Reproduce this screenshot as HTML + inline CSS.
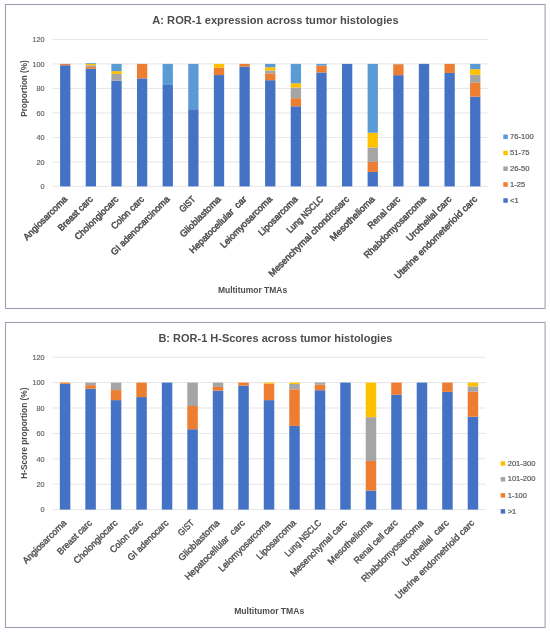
<!DOCTYPE html>
<html><head><meta charset="utf-8"><style>
html,body{margin:0;padding:0;background:#fff;}
body{width:550px;height:633px;overflow:hidden;}
svg{display:block;will-change:transform;filter:blur(0.3px);font-family:"Liberation Sans",sans-serif;}
.tk{font-size:8px;fill:#666;stroke:#666;stroke-width:0.2px;}
.lb{font-size:9.2px;fill:#505050;stroke:#505050;}
.lbA{stroke-width:0.55px;}
.lbB{stroke-width:0.4px;}
.ti{font-size:11.4px;font-weight:bold;fill:#4d4d4d;}
.at{font-size:8.8px;font-weight:bold;fill:#4d4d4d;}
.lg{fill:#595959;stroke:#595959;stroke-width:0.2px;}
</style></head><body>
<svg width="550" height="633" viewBox="0 0 550 633">
<rect width="550" height="633" fill="#fff"/>
<rect x="5.5" y="4.5" width="539.6" height="304" fill="#fff" stroke="#9EA1B5" stroke-width="1.1"/>
<rect x="52.44" y="185.90" width="435.62" height="1" fill="#E6E6E6"/>
<text x="44.6" y="189.25" text-anchor="end" class="tk" textLength="4.07" lengthAdjust="spacingAndGlyphs">0</text>
<rect x="52.44" y="161.40" width="435.62" height="1" fill="#E6E6E6"/>
<text x="44.6" y="164.75" text-anchor="end" class="tk" textLength="8.14" lengthAdjust="spacingAndGlyphs">20</text>
<rect x="52.44" y="136.90" width="435.62" height="1" fill="#E6E6E6"/>
<text x="44.6" y="140.25" text-anchor="end" class="tk" textLength="8.14" lengthAdjust="spacingAndGlyphs">40</text>
<rect x="52.44" y="112.40" width="435.62" height="1" fill="#E6E6E6"/>
<text x="44.6" y="115.75" text-anchor="end" class="tk" textLength="8.14" lengthAdjust="spacingAndGlyphs">60</text>
<rect x="52.44" y="87.90" width="435.62" height="1" fill="#E6E6E6"/>
<text x="44.6" y="91.25" text-anchor="end" class="tk" textLength="8.14" lengthAdjust="spacingAndGlyphs">80</text>
<rect x="52.44" y="63.40" width="435.62" height="1" fill="#E6E6E6"/>
<text x="44.6" y="66.75" text-anchor="end" class="tk" textLength="12.21" lengthAdjust="spacingAndGlyphs">100</text>
<rect x="52.44" y="38.90" width="435.62" height="1" fill="#E6E6E6"/>
<text x="44.6" y="42.25" text-anchor="end" class="tk" textLength="12.21" lengthAdjust="spacingAndGlyphs">120</text>
<rect x="60.10" y="65.25" width="10.3" height="121.15" fill="#4472C4"/>
<rect x="60.10" y="63.90" width="10.3" height="1.35" fill="#ED7D31"/>
<rect x="85.72" y="68.80" width="10.3" height="117.60" fill="#4472C4"/>
<rect x="85.72" y="66.96" width="10.3" height="1.84" fill="#ED7D31"/>
<rect x="85.72" y="65.25" width="10.3" height="1.72" fill="#A5A5A5"/>
<rect x="85.72" y="63.78" width="10.3" height="1.47" fill="#FFC000"/>
<rect x="85.72" y="63.04" width="10.3" height="0.73" fill="#5B9BD5"/>
<rect x="111.35" y="80.68" width="10.3" height="105.72" fill="#4472C4"/>
<rect x="111.35" y="73.95" width="10.3" height="6.74" fill="#A5A5A5"/>
<rect x="111.35" y="71.13" width="10.3" height="2.82" fill="#FFC000"/>
<rect x="111.35" y="63.90" width="10.3" height="7.23" fill="#5B9BD5"/>
<rect x="136.97" y="78.35" width="10.3" height="108.05" fill="#4472C4"/>
<rect x="136.97" y="63.90" width="10.3" height="14.45" fill="#ED7D31"/>
<rect x="162.60" y="84.97" width="10.3" height="101.43" fill="#4472C4"/>
<rect x="162.60" y="63.90" width="10.3" height="21.07" fill="#5B9BD5"/>
<rect x="188.22" y="109.22" width="10.3" height="77.18" fill="#4472C4"/>
<rect x="188.22" y="63.90" width="10.3" height="45.33" fill="#5B9BD5"/>
<rect x="213.85" y="75.05" width="10.3" height="111.35" fill="#4472C4"/>
<rect x="213.85" y="67.70" width="10.3" height="7.35" fill="#ED7D31"/>
<rect x="213.85" y="63.90" width="10.3" height="3.80" fill="#FFC000"/>
<rect x="239.47" y="66.59" width="10.3" height="119.81" fill="#4472C4"/>
<rect x="239.47" y="63.90" width="10.3" height="2.70" fill="#ED7D31"/>
<rect x="265.10" y="80.19" width="10.3" height="106.21" fill="#4472C4"/>
<rect x="265.10" y="73.33" width="10.3" height="6.86" fill="#ED7D31"/>
<rect x="265.10" y="70.39" width="10.3" height="2.94" fill="#A5A5A5"/>
<rect x="265.10" y="67.21" width="10.3" height="3.19" fill="#FFC000"/>
<rect x="265.10" y="63.90" width="10.3" height="3.31" fill="#5B9BD5"/>
<rect x="290.73" y="106.28" width="10.3" height="80.12" fill="#4472C4"/>
<rect x="290.73" y="98.20" width="10.3" height="8.08" fill="#ED7D31"/>
<rect x="290.73" y="87.54" width="10.3" height="10.66" fill="#A5A5A5"/>
<rect x="290.73" y="83.25" width="10.3" height="4.29" fill="#FFC000"/>
<rect x="290.73" y="63.90" width="10.3" height="19.36" fill="#5B9BD5"/>
<rect x="316.35" y="72.47" width="10.3" height="113.93" fill="#4472C4"/>
<rect x="316.35" y="65.62" width="10.3" height="6.86" fill="#ED7D31"/>
<rect x="316.35" y="63.90" width="10.3" height="1.72" fill="#5B9BD5"/>
<rect x="341.98" y="63.90" width="10.3" height="122.50" fill="#4472C4"/>
<rect x="367.60" y="171.94" width="10.3" height="14.46" fill="#4472C4"/>
<rect x="367.60" y="161.90" width="10.3" height="10.04" fill="#ED7D31"/>
<rect x="367.60" y="147.44" width="10.3" height="14.46" fill="#A5A5A5"/>
<rect x="367.60" y="132.75" width="10.3" height="14.70" fill="#FFC000"/>
<rect x="367.60" y="63.90" width="10.3" height="68.85" fill="#5B9BD5"/>
<rect x="393.23" y="75.17" width="10.3" height="111.23" fill="#4472C4"/>
<rect x="393.23" y="64.27" width="10.3" height="10.90" fill="#ED7D31"/>
<rect x="393.23" y="63.90" width="10.3" height="0.37" fill="#A5A5A5"/>
<rect x="418.85" y="63.90" width="10.3" height="122.50" fill="#4472C4"/>
<rect x="444.48" y="72.97" width="10.3" height="113.44" fill="#4472C4"/>
<rect x="444.48" y="63.90" width="10.3" height="9.07" fill="#ED7D31"/>
<rect x="470.10" y="96.61" width="10.3" height="89.79" fill="#4472C4"/>
<rect x="470.10" y="82.89" width="10.3" height="13.72" fill="#ED7D31"/>
<rect x="470.10" y="74.80" width="10.3" height="8.08" fill="#A5A5A5"/>
<rect x="470.10" y="69.17" width="10.3" height="5.63" fill="#FFC000"/>
<rect x="470.10" y="63.90" width="10.3" height="5.27" fill="#5B9BD5"/>
<text transform="translate(67.75,199.80) rotate(-45)" text-anchor="end" class="lb lbA" textLength="57.78" lengthAdjust="spacingAndGlyphs">Angiosarcoma</text>
<text transform="translate(93.38,199.80) rotate(-45)" text-anchor="end" class="lb lbA" textLength="44.95" lengthAdjust="spacingAndGlyphs">Breast carc</text>
<text transform="translate(119.00,199.80) rotate(-45)" text-anchor="end" class="lb lbA" textLength="57.69" lengthAdjust="spacingAndGlyphs">Cholongiocarc</text>
<text transform="translate(144.62,199.80) rotate(-45)" text-anchor="end" class="lb lbA" textLength="42.42" lengthAdjust="spacingAndGlyphs">Colon carc</text>
<text transform="translate(170.25,199.80) rotate(-45)" text-anchor="end" class="lb lbA" textLength="78.97" lengthAdjust="spacingAndGlyphs">GI adenocarcinoma</text>
<text transform="translate(195.88,199.80) rotate(-45)" text-anchor="end" class="lb lbA" textLength="18.30" lengthAdjust="spacingAndGlyphs">GIST</text>
<text transform="translate(221.50,199.80) rotate(-45)" text-anchor="end" class="lb lbA" textLength="53.82" lengthAdjust="spacingAndGlyphs">Glioblastoma</text>
<text transform="translate(247.12,199.80) rotate(-45)" text-anchor="end" class="lb lbA" textLength="76.52" lengthAdjust="spacingAndGlyphs">Hepatocellular  car</text>
<text transform="translate(272.75,199.80) rotate(-45)" text-anchor="end" class="lb lbA" textLength="69.00" lengthAdjust="spacingAndGlyphs">Leiomyosarcoma</text>
<text transform="translate(298.38,199.80) rotate(-45)" text-anchor="end" class="lb lbA" textLength="51.49" lengthAdjust="spacingAndGlyphs">Liposarcoma</text>
<text transform="translate(324.00,199.80) rotate(-45)" text-anchor="end" class="lb lbA" textLength="47.60" lengthAdjust="spacingAndGlyphs">Lung NSCLC</text>
<text transform="translate(349.62,199.80) rotate(-45)" text-anchor="end" class="lb lbA" textLength="109.45" lengthAdjust="spacingAndGlyphs">Mesenchymal chondrosarc</text>
<text transform="translate(375.25,199.80) rotate(-45)" text-anchor="end" class="lb lbA" textLength="58.93" lengthAdjust="spacingAndGlyphs">Mesothelioma</text>
<text transform="translate(400.88,199.80) rotate(-45)" text-anchor="end" class="lb lbA" textLength="41.74" lengthAdjust="spacingAndGlyphs">Renal carc</text>
<text transform="translate(426.50,199.80) rotate(-45)" text-anchor="end" class="lb lbA" textLength="83.51" lengthAdjust="spacingAndGlyphs">Rhabdomyosarcoma</text>
<text transform="translate(452.12,199.80) rotate(-45)" text-anchor="end" class="lb lbA" textLength="59.42" lengthAdjust="spacingAndGlyphs">Urothelial carc</text>
<text transform="translate(477.75,199.80) rotate(-45)" text-anchor="end" class="lb lbA" textLength="112.66" lengthAdjust="spacingAndGlyphs">Uterine endometerioid carc</text>
<text x="152.3" y="23.9" class="ti" textLength="246.3" lengthAdjust="spacingAndGlyphs">A: ROR-1 expression across tumor histologies</text>
<text transform="translate(27,116.8) rotate(-90)" class="at" textLength="56.6" lengthAdjust="spacingAndGlyphs">Proportion (%)</text>
<text x="217.9" y="292.8" class="at" textLength="69.3" lengthAdjust="spacingAndGlyphs">Multitumor TMAs</text>
<rect x="503.3" y="134.55" width="4.5" height="4.5" fill="#5B9BD5"/>
<text x="510" y="138.90" class="lg" style="font-size:7.6px">76-100</text>
<rect x="503.3" y="150.75" width="4.5" height="4.5" fill="#FFC000"/>
<text x="510" y="155.10" class="lg" style="font-size:7.6px">51-75</text>
<rect x="503.3" y="166.45" width="4.5" height="4.5" fill="#A5A5A5"/>
<text x="510" y="170.80" class="lg" style="font-size:7.6px">26-50</text>
<rect x="503.3" y="182.25" width="4.5" height="4.5" fill="#ED7D31"/>
<text x="510" y="186.60" class="lg" style="font-size:7.6px">1-25</text>
<rect x="503.3" y="198.25" width="4.5" height="4.5" fill="#4472C4"/>
<text x="510" y="202.60" class="lg" style="font-size:7.6px">&lt;1</text>
<rect x="5.5" y="322.5" width="539.6" height="305" fill="#fff" stroke="#9EA1B5" stroke-width="1.1"/>
<rect x="52.35" y="509.10" width="433.33" height="1" fill="#E6E6E6"/>
<text x="44.6" y="512.45" text-anchor="end" class="tk" textLength="4.07" lengthAdjust="spacingAndGlyphs">0</text>
<rect x="52.35" y="483.70" width="433.33" height="1" fill="#E6E6E6"/>
<text x="44.6" y="487.05" text-anchor="end" class="tk" textLength="8.14" lengthAdjust="spacingAndGlyphs">20</text>
<rect x="52.35" y="458.30" width="433.33" height="1" fill="#E6E6E6"/>
<text x="44.6" y="461.65" text-anchor="end" class="tk" textLength="8.14" lengthAdjust="spacingAndGlyphs">40</text>
<rect x="52.35" y="432.90" width="433.33" height="1" fill="#E6E6E6"/>
<text x="44.6" y="436.25" text-anchor="end" class="tk" textLength="8.14" lengthAdjust="spacingAndGlyphs">60</text>
<rect x="52.35" y="407.50" width="433.33" height="1" fill="#E6E6E6"/>
<text x="44.6" y="410.85" text-anchor="end" class="tk" textLength="8.14" lengthAdjust="spacingAndGlyphs">80</text>
<rect x="52.35" y="382.10" width="433.33" height="1" fill="#E6E6E6"/>
<text x="44.6" y="385.45" text-anchor="end" class="tk" textLength="12.21" lengthAdjust="spacingAndGlyphs">100</text>
<rect x="52.35" y="356.70" width="433.33" height="1" fill="#E6E6E6"/>
<text x="44.6" y="360.05" text-anchor="end" class="tk" textLength="12.21" lengthAdjust="spacingAndGlyphs">120</text>
<rect x="59.85" y="383.87" width="10.5" height="125.73" fill="#4472C4"/>
<rect x="59.85" y="382.60" width="10.5" height="1.27" fill="#ED7D31"/>
<rect x="85.34" y="388.70" width="10.5" height="120.90" fill="#4472C4"/>
<rect x="85.34" y="385.14" width="10.5" height="3.56" fill="#ED7D31"/>
<rect x="85.34" y="382.60" width="10.5" height="2.54" fill="#A5A5A5"/>
<rect x="110.83" y="400.13" width="10.5" height="109.47" fill="#4472C4"/>
<rect x="110.83" y="390.09" width="10.5" height="10.03" fill="#ED7D31"/>
<rect x="110.83" y="382.60" width="10.5" height="7.49" fill="#A5A5A5"/>
<rect x="136.32" y="397.08" width="10.5" height="112.52" fill="#4472C4"/>
<rect x="136.32" y="382.60" width="10.5" height="14.48" fill="#ED7D31"/>
<rect x="161.81" y="382.60" width="10.5" height="127.00" fill="#4472C4"/>
<rect x="187.30" y="429.21" width="10.5" height="80.39" fill="#4472C4"/>
<rect x="187.30" y="405.97" width="10.5" height="23.24" fill="#ED7D31"/>
<rect x="187.30" y="382.60" width="10.5" height="23.37" fill="#A5A5A5"/>
<rect x="212.79" y="390.60" width="10.5" height="119.00" fill="#4472C4"/>
<rect x="212.79" y="386.92" width="10.5" height="3.68" fill="#ED7D31"/>
<rect x="212.79" y="382.60" width="10.5" height="4.32" fill="#A5A5A5"/>
<rect x="238.28" y="385.65" width="10.5" height="123.95" fill="#4472C4"/>
<rect x="238.28" y="382.60" width="10.5" height="3.05" fill="#ED7D31"/>
<rect x="263.77" y="400.13" width="10.5" height="109.47" fill="#4472C4"/>
<rect x="263.77" y="383.62" width="10.5" height="16.51" fill="#ED7D31"/>
<rect x="263.77" y="382.60" width="10.5" height="1.02" fill="#FFC000"/>
<rect x="289.26" y="425.91" width="10.5" height="83.69" fill="#4472C4"/>
<rect x="289.26" y="389.33" width="10.5" height="36.58" fill="#ED7D31"/>
<rect x="289.26" y="384.00" width="10.5" height="5.33" fill="#A5A5A5"/>
<rect x="289.26" y="382.60" width="10.5" height="1.40" fill="#FFC000"/>
<rect x="314.75" y="390.22" width="10.5" height="119.38" fill="#4472C4"/>
<rect x="314.75" y="384.76" width="10.5" height="5.46" fill="#ED7D31"/>
<rect x="314.75" y="382.60" width="10.5" height="2.16" fill="#A5A5A5"/>
<rect x="340.24" y="382.60" width="10.5" height="127.00" fill="#4472C4"/>
<rect x="365.73" y="490.55" width="10.5" height="19.05" fill="#4472C4"/>
<rect x="365.73" y="460.96" width="10.5" height="29.59" fill="#ED7D31"/>
<rect x="365.73" y="417.14" width="10.5" height="43.81" fill="#A5A5A5"/>
<rect x="365.73" y="382.60" width="10.5" height="34.54" fill="#FFC000"/>
<rect x="391.22" y="394.79" width="10.5" height="114.81" fill="#4472C4"/>
<rect x="391.22" y="382.60" width="10.5" height="12.19" fill="#ED7D31"/>
<rect x="416.71" y="382.60" width="10.5" height="127.00" fill="#4472C4"/>
<rect x="442.20" y="391.87" width="10.5" height="117.73" fill="#4472C4"/>
<rect x="442.20" y="382.60" width="10.5" height="9.27" fill="#ED7D31"/>
<rect x="467.69" y="416.76" width="10.5" height="92.84" fill="#4472C4"/>
<rect x="467.69" y="391.74" width="10.5" height="25.02" fill="#ED7D31"/>
<rect x="467.69" y="386.41" width="10.5" height="5.33" fill="#A5A5A5"/>
<rect x="467.69" y="382.60" width="10.5" height="3.81" fill="#FFC000"/>
<text transform="translate(67.10,523.50) rotate(-45)" text-anchor="end" class="lb lbB" textLength="57.78" lengthAdjust="spacingAndGlyphs">Angiosarcoma</text>
<text transform="translate(92.59,523.50) rotate(-45)" text-anchor="end" class="lb lbB" textLength="44.95" lengthAdjust="spacingAndGlyphs">Breast carc</text>
<text transform="translate(118.08,523.50) rotate(-45)" text-anchor="end" class="lb lbB" textLength="57.69" lengthAdjust="spacingAndGlyphs">Cholongiocarc</text>
<text transform="translate(143.57,523.50) rotate(-45)" text-anchor="end" class="lb lbB" textLength="42.42" lengthAdjust="spacingAndGlyphs">Colon carc</text>
<text transform="translate(169.06,523.50) rotate(-45)" text-anchor="end" class="lb lbB" textLength="53.37" lengthAdjust="spacingAndGlyphs">GI adenocarc</text>
<text transform="translate(194.55,523.50) rotate(-45)" text-anchor="end" class="lb lbB" textLength="18.30" lengthAdjust="spacingAndGlyphs">GIST</text>
<text transform="translate(220.04,523.50) rotate(-45)" text-anchor="end" class="lb lbB" textLength="53.82" lengthAdjust="spacingAndGlyphs">Glioblastoma</text>
<text transform="translate(245.53,523.50) rotate(-45)" text-anchor="end" class="lb lbB" textLength="80.75" lengthAdjust="spacingAndGlyphs">Hepatocellular  carc</text>
<text transform="translate(271.02,523.50) rotate(-45)" text-anchor="end" class="lb lbB" textLength="69.00" lengthAdjust="spacingAndGlyphs">Leiomyosarcoma</text>
<text transform="translate(296.51,523.50) rotate(-45)" text-anchor="end" class="lb lbB" textLength="51.49" lengthAdjust="spacingAndGlyphs">Liposarcoma</text>
<text transform="translate(322.00,523.50) rotate(-45)" text-anchor="end" class="lb lbB" textLength="47.60" lengthAdjust="spacingAndGlyphs">Lung NSCLC</text>
<text transform="translate(347.49,523.50) rotate(-45)" text-anchor="end" class="lb lbB" textLength="75.74" lengthAdjust="spacingAndGlyphs">Mesenchymal carc</text>
<text transform="translate(372.98,523.50) rotate(-45)" text-anchor="end" class="lb lbB" textLength="58.93" lengthAdjust="spacingAndGlyphs">Mesothelioma</text>
<text transform="translate(398.47,523.50) rotate(-45)" text-anchor="end" class="lb lbB" textLength="57.79" lengthAdjust="spacingAndGlyphs">Renal cell carc</text>
<text transform="translate(423.96,523.50) rotate(-45)" text-anchor="end" class="lb lbB" textLength="83.51" lengthAdjust="spacingAndGlyphs">Rhabdomyosarcoma</text>
<text transform="translate(449.45,523.50) rotate(-45)" text-anchor="end" class="lb lbB" textLength="61.68" lengthAdjust="spacingAndGlyphs">Urothelial  carc</text>
<text transform="translate(474.94,523.50) rotate(-45)" text-anchor="end" class="lb lbB" textLength="107.68" lengthAdjust="spacingAndGlyphs">Uterine endometrioid carc</text>
<text x="158.4" y="341.8" class="ti" textLength="234.0" lengthAdjust="spacingAndGlyphs">B: ROR-1 H-Scores across tumor histologies</text>
<text transform="translate(27,478.8) rotate(-90)" class="at" textLength="91.2" lengthAdjust="spacingAndGlyphs">H-Score proportion (%)</text>
<text x="234.2" y="614.1" class="at" textLength="70.0" lengthAdjust="spacingAndGlyphs">Multitumor TMAs</text>
<rect x="500.7" y="461.25" width="4.5" height="4.5" fill="#FFC000"/>
<text x="507.7" y="465.60" class="lg" style="font-size:7.55px">201-300</text>
<rect x="500.7" y="477.05" width="4.5" height="4.5" fill="#A5A5A5"/>
<text x="507.7" y="481.40" class="lg" style="font-size:7.55px">101-200</text>
<rect x="500.7" y="493.15" width="4.5" height="4.5" fill="#ED7D31"/>
<text x="507.7" y="497.50" class="lg" style="font-size:7.55px">1-100</text>
<rect x="500.7" y="509.15" width="4.5" height="4.5" fill="#4472C4"/>
<text x="507.7" y="513.50" class="lg" style="font-size:7.55px">&gt;1</text>
</svg>
</body></html>
